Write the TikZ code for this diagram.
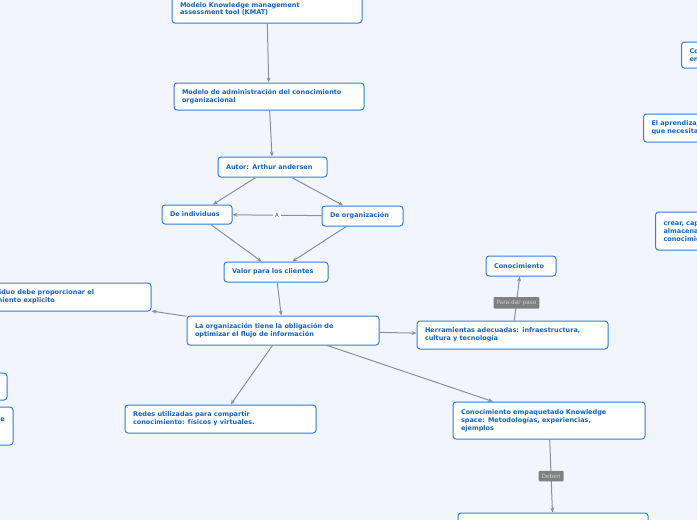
\documentclass[tikz,border=0pt]{standalone}
\usepackage{fontspec}
\setmainfont{DejaVu Sans}
\usetikzlibrary{arrows.meta}
\definecolor{bg}{HTML}{F2F5FD}
\definecolor{bl}{HTML}{2F7FDB}
\definecolor{tx}{HTML}{1565C0}
\definecolor{ln}{HTML}{8A8F99}
\tikzset{
 bx/.style args={#1/#2}{draw=bl,line width=1pt,fill=white,rounded corners=3pt,minimum width=#1pt,minimum height=#2pt,text width=#1pt-16pt,align=left,inner sep=0pt,font=\fontsize{6.5}{7.8}\selectfont\bfseries,text=tx},
 ar/.style={draw=ln,line width=1pt,-{Stealth[length=5pt,width=4pt]}},
 lb/.style={fill=black!50,text=black!20,font=\fontsize{5.8}{6}\selectfont,rounded corners=1pt,inner sep=3pt},
}
\begin{document}
\begin{tikzpicture}[x=1pt,y=-1pt]
\useasboundingbox[fill=bg] (0,0) rectangle (697,520);
\node[bx=190/28] (kmat) at (267,9) {Modelo Knowledge management\\assessment tool (KMAT)};
\node[bx=190/27] (adm) at (269,96.5) {Modelo de administración del conocimiento\\organizacional};
\node[bx=109/20] (aut) at (272.5,167) {Autor: Arthur andersen};
\node[bx=70/19] (ind) at (197,214.5) {De individuos};
\node[bx=81/20] (org) at (362.5,216) {De organización};
\node[bx=104/20] (val) at (276,272) {Valor para los clientes};
\node[bx=192/29] (la) at (283,330.5) {La organización tiene la obligación de\\optimizar el flujo de información};
\node[bx=190/28] (idv) at (56,297) {};
\node[font=\fontsize{6.5}{7.8}\selectfont\bfseries,text=tx,align=left,anchor=west,inner sep=0pt] at (-28,297) {El individuo debe proporcionar el\\conocimiento explicito};
\node[bx=40/27] (l1) at (-13,386.5) {};
\node[bx=40/38] (l2) at (-7,426) {};
\node[font=\fontsize{6.5}{7.8}\selectfont\bfseries,text=tx,anchor=east,inner sep=0pt] at (5,420) {e};
\node[bx=191/28] (her) at (512.5,335) {Herramientas adecuadas: infraestructura,\\cultura y tecnología};
\node[bx=70/20] (con) at (521,266) {Conocimiento};
\node[bx=192/37] (emp) at (549,420.5) {Conocimiento empaquetado Knowledge\\space: Metodologías, experiencias,\\ejemplos};
\node[bx=190/28] (bot) at (553,527) {};
\node[bx=191/28] (red) at (220.5,419) {Redes utilizadas para compartir\\conocimiento: físicos y virtuales.};
\node[bx=190/26,anchor=west] (r1) at (681,55) {Co\\en};
\node[bx=190/28,anchor=west] (r2) at (643,128) {El aprendizaje\\que necesita};
\node[bx=190/38,anchor=west] (r3) at (655,231) {crear, capturar\\almacenar\\conocimiento};
\draw[ar] (kmat) -- (adm);
\draw[ar] (adm) -- (aut);
\draw[ar] (aut) -- (ind);
\draw[ar] (aut) -- (org);
\draw[ar] (org) -- node[fill=white,font=\fontsize{5.5}{6}\selectfont,inner sep=2pt,text=black!70]{A} (ind);
\draw[ar] (ind) -- (val);
\draw[ar] (org) -- (val);
\draw[ar] (val) -- (la);
\draw[ar] (la) -- (idv);
\draw[ar] (la) -- (her);
\draw[ar] (la) -- (red);
\draw[ar] (la) -- (emp);
\draw[ar] (her) -- node[lb,pos=0.4]{Para dar paso} (con);
\draw[ar] (emp) -- node[lb,pos=0.5]{Deben} (bot);
\end{tikzpicture}
\end{document}
